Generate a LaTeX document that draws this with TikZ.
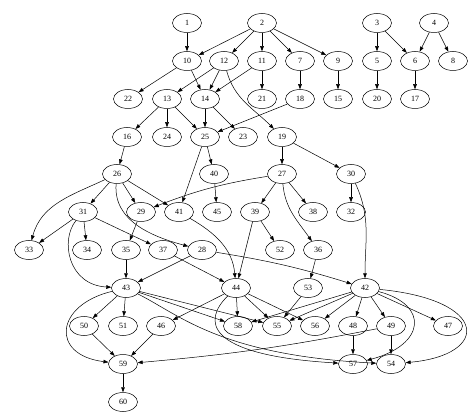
\documentclass[tikz,border=0pt]{standalone}
\usepackage{fontspec}
\setmainfont{Liberation Serif}
\usetikzlibrary{shapes.geometric,arrows.meta}
\begin{document}
\begin{tikzpicture}[x=1pt,y=-1pt,
  vtx/.style={ellipse,draw,line width=0.5pt,minimum width=29pt,minimum height=19pt,inner sep=0pt,font=\fontsize{8}{9}\selectfont},
  edge/.style={line width=0.5pt,-{Triangle[length=5pt,width=3.6pt]}}]
\useasboundingbox (0,0) rectangle (474,414);
\foreach \n/\x/\y in {1/187/23,2/262/23,3/377/23,4/434/23,
  10/187/61,12/224/61,11/262/61,7/300/61,9/338/61,5/377/61,6/415/61,8/453/61,
  22/128/99,13/167/99,14/205/99,21/262/99,18/300/99,15/338/99,20/377/99,17/415/99,
  16/127/137,24/167/137,25/205/137,23/243/137,19/282/137,
  26/117/174,40/214/174,27/282/174,30/351/174,
  31/83/212,29/141/212,41/179/212,45/217/212,39/255/212,38/313/212,32/351/212,
  33/29/250,34/87/250,35/126/250,37/163/250,28/202/250,52/280/250,36/318/250,
  43/126/288,44/236/288,53/308/288,42/365/288,
  50/84/326,51/123/326,46/161/326,58/238/326,55/277/326,56/315/326,48/353/326,49/391/326,47/448/326,
  59/123/364,57/353/364,54/391/364,
  60/123/402}
  \node[vtx] (n\n) at (\x,\y) {\n};
% straight edges
\foreach \a/\b in {1/10,2/10,2/12,2/11,2/7,2/9,3/5,3/6,4/6,4/8,
  10/22,10/14,12/13,12/14,11/14,11/21,7/18,9/15,5/20,6/17,
  13/16,13/24,13/25,14/25,14/23,18/25,16/26,25/41,25/40,
  19/27,19/30,26/31,26/29,26/41,40/45,27/39,27/38,30/32,
  31/33,31/34,31/37,29/35,39/44,39/52,35/43,37/44,28/43,36/53,
  43/50,43/51,43/58,43/55,44/46,44/58,44/55,44/56,53/55,
  42/58,42/55,42/56,42/48,42/49,42/47,48/57,49/54,
  50/59,46/59,59/60}
  \draw[edge] (n\a) -- (n\b);
% gently bent edges
\draw[edge] (n27) to[bend right=6] (n29);
\draw[edge] (n28) to[bend left=4] (n42);
\draw[edge] (n49) to[bend left=3] (n59);
% curved edges
\draw[edge] (n12) to[out=-75,in=135] (n19);
\draw[edge] (n26) to[out=-155,in=75] (n33);
\draw[edge] (n26) to[out=-95,in=165] (n28);
\draw[edge] (n31) .. controls (60,240) and (68,285) .. (n43);
\draw[edge] (n27) to[out=-85,in=125] (n36);
\draw[edge] (n30) to[out=-65,in=90] (n42);
\draw[edge] (n41) to[out=-30,in=95] (n44);
\draw[edge] (n43) .. controls (55,305) and (50,355) .. (n59);
\draw[edge] (n43) .. controls (180,315) and (220,355) .. (n54);
\draw[edge] (n44) .. controls (203,320) and (203,355) .. (n57);
\draw[edge] (n42) .. controls (430,305) and (425,345) .. (n57);
\draw[edge] (n42) .. controls (490,300) and (490,355) .. (n54);
\end{tikzpicture}
\end{document}
